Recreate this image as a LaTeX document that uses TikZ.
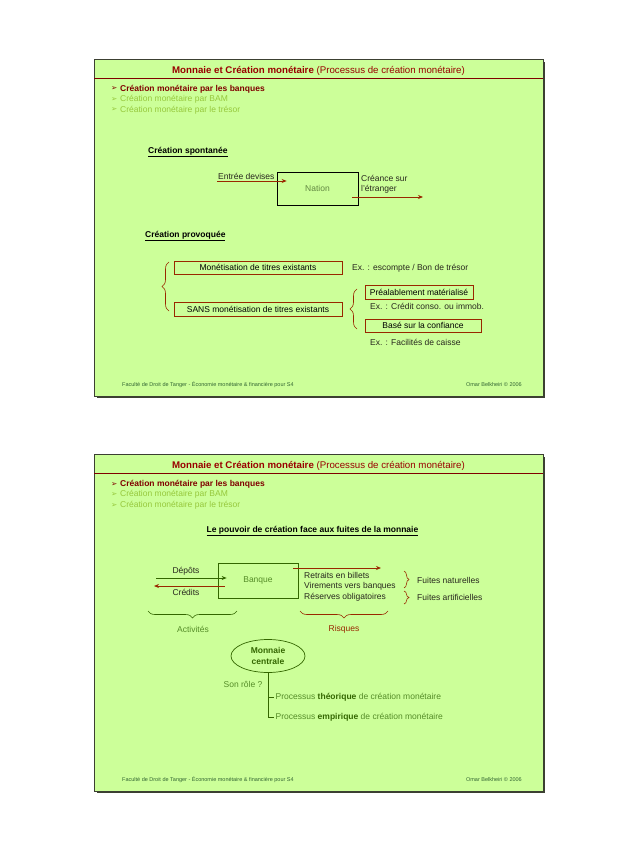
\documentclass[tikz,border=0pt]{standalone}
\usepackage{fontspec}
\setmainfont{Liberation Sans}
\newfontfamily\dejavu{DejaVu Sans}
\usetikzlibrary{arrows.meta,positioning,calc,shapes.geometric,decorations.pathreplacing}
\definecolor{slidegreen}{RGB}{204,255,153}
\definecolor{slideedge}{RGB}{60,64,50}
\definecolor{titlered}{RGB}{153,0,0}
\definecolor{ruledred}{RGB}{128,0,0}
\definecolor{palegreen}{RGB}{150,200,60}
\definecolor{footgreen}{RGB}{51,102,51}
\definecolor{arrowred}{RGB}{153,40,0}
\definecolor{darkgreen}{RGB}{51,102,0}
\definecolor{midgreen}{RGB}{85,140,40}
\definecolor{greytext}{RGB}{40,40,30}

\begin{document}
\begin{tikzpicture}[x=1pt, y=-1pt,
    slide/.style={draw=slideedge, fill=slidegreen, line width=0.6pt},
    txt/.style={font=\fontsize{8.5}{10}\selectfont, inner sep=0pt, text=greytext},
    boldtxt/.style={font=\fontsize{8.5}{10}\selectfont\bfseries, inner sep=0pt},
    framebox/.style={draw=arrowred, line width=0.7pt, font=\fontsize{8.5}{10}\selectfont, inner sep=0pt},
    flow/.style={line width=0.8pt, -{Stealth[length=5pt, width=4pt]}},
    curly/.style={decorate, decoration={brace, amplitude=7pt}, line width=0.6pt},
    bulletmark/.style={inner sep=0pt, anchor=east, font=\dejavu\fontsize{7.5}{8}\selectfont}
]
    \useasboundingbox (0,0) rectangle (638,850);

    % Slide frames, headers and footers
    \foreach \s/\dy in {one/0, two/395} {
        \begin{scope}[yshift=-\dy pt]
            \fill[slideedge] (97,62) rectangle (545,398);
            \draw[slide] (94,59) rectangle (543,396);
            \draw[ruledred, line width=0.9pt] (94,78) -- (543,78);
            \node[txt, font=\fontsize{9.7}{11}\selectfont, text=titlered] (title\s) at (318.5,70.5)
                {\textbf{Monnaie et Création monétaire} (Processus de création monétaire)};
            \node[boldtxt, anchor=west, text=ruledred] (bank\s) at (120,89) {Création monétaire par les banques};
            \node[txt, anchor=west, text=palegreen] (bam\s) at (120,99.5) {Création monétaire par BAM};
            \node[txt, anchor=west, text=palegreen] (tres\s) at (120,110) {Création monétaire par le trésor};
            \node[bulletmark, text=ruledred] at ([xshift=-2.5pt]bank\s.west) {➢};
            \node[bulletmark, text=palegreen] at ([xshift=-2.5pt]bam\s.west) {➢};
            \node[bulletmark, text=palegreen] at ([xshift=-2.5pt]tres\s.west) {➢};
            \node[txt, anchor=west, text=footgreen, font=\fontsize{5.5}{6}\selectfont] (faculty\s) at (122,385)
                {Faculté de Droit de Tanger - Économie monétaire \& financière pour S4};
            \node[txt, anchor=east, text=footgreen, font=\fontsize{5.5}{6}\selectfont] (author\s) at (522,385)
                {Omar Belkheiri © 2006};
        \end{scope}
    }

    % Création spontanée
    \node[boldtxt, anchor=west, text=black] (spont) at (148,152) {\underline{Création spontanée}};
    \node[draw=black, line width=0.6pt, minimum width=81, minimum height=33, txt, text=midgreen!70!gray] (nation) at (317.5,188.5) {Nation};
    \coordinate (devin) at (217,181);
    \coordinate (creout) at (423,197);
    \draw[flow, arrowred] (devin) -- ($(nation.west |- devin)+(10,0)$);
    \draw[flow, arrowred] ($(nation.east |- creout)+(-6,0)$) -- (creout);
    \node[txt, anchor=south west] (devlbl) at ($(devin)+(1,-1.5)$) {Entrée devises};
    \node[txt, anchor=north west, align=left] (crelbl) at (361,175) {Créance sur\\l'étranger};

    % Création provoquée
    \node[boldtxt, anchor=west, text=black] (provo) at (145,236) {\underline{Création provoquée}};
    \node[framebox, minimum width=168, minimum height=13] (mono) at (258,267.5) {Monétisation de titres existants};
    \node[framebox, minimum width=168, minimum height=14] (sans) at (258,309) {SANS monétisation de titres existants};
    \node[framebox, minimum width=108, minimum height=14] (prea) at (419,292) {Préalablement matérialisé};
    \node[framebox, minimum width=116, minimum height=13] (conf) at (423,325.5) {Basé sur la confiance};
    \node[txt, anchor=west] (exmono) at (352,268) {Ex. : escompte / Bon de trésor};
    \node[txt, anchor=west] (exprea) at (370,306) {Ex. : Crédit conso. ou immob.};
    \node[txt, anchor=west] (exconf) at (370,342) {Ex. : Facilités de caisse};
    \draw[curly, arrowred] (169,311) -- (169,262);
    \draw[curly, arrowred] (357,329) -- (357,289);

    % Fuites de la monnaie
    \node[boldtxt, text=black] (pouvoir) at (312.5,531) {\underline{Le pouvoir de création face aux fuites de la monnaie}};
    \node[draw=darkgreen, line width=0.7pt, minimum width=80, minimum height=35, txt, text=midgreen] (banque) at (258,580.5) {Banque};
    \coordinate (depin) at (156,578);
    \coordinate (credout) at (154,586);
    \coordinate (riskout) at (381,568);
    \draw[flow, darkgreen] (depin) -- ($(banque.west |- depin)+(9,0)$);
    \draw[flow, arrowred] ($(banque.west |- credout)+(7,0)$) -- (credout);
    \draw[flow, arrowred] ($(banque.east |- riskout)+(-5,0)$) -- (riskout);
    \node[txt] (depots) at (186,571) {Dépôts};
    \node[txt] (credits) at (186,592.5) {Crédits};
    \node[txt, anchor=west] (retraits) at (304,575) {Retraits en billets};
    \node[txt, anchor=west] (virements) at (304,586) {Virements vers banques};
    \node[txt, anchor=west] (reserves) at (304,597) {Réserves obligatoires};
    \draw[curly, arrowred, decoration={amplitude=5pt}] (404,571) -- (404,588);
    \draw[curly, arrowred, decoration={amplitude=5pt}] (404,591) -- (404,604);
    \node[txt, anchor=west] (naturelles) at (417,580) {Fuites naturelles};
    \node[txt, anchor=west] (artific) at (417,597.5) {Fuites artificielles};
    \draw[curly, darkgreen] (237,611) -- (148,611);
    \draw[curly, arrowred] (388,611) -- (300,611);
    \node[txt, text=midgreen] (activites) at (193,629) {Activités};
    \node[txt, text=arrowred] (risques) at (344,629) {Risques};

    % Monnaie centrale
    \node[ellipse, draw=darkgreen, line width=0.7pt, minimum width=74, minimum height=33, inner sep=0pt,
        align=center, font=\fontsize{8.5}{11}\selectfont\bfseries, text=darkgreen] (central) at (268,656) {Monnaie\\centrale};
    \node[txt, text=midgreen] (role) at (243,684) {Son rôle ?};
    \node[txt, anchor=west, text=midgreen, inner sep=1.5pt] (theor) at (274,697)
        {Processus \textcolor{darkgreen}{\textbf{théorique}} de création monétaire};
    \node[txt, anchor=west, text=midgreen, inner sep=1.5pt] (empir) at (274,717)
        {Processus \textcolor{darkgreen}{\textbf{empirique}} de création monétaire};
    \draw[darkgreen, line width=0.7pt] (central.south) |- (empir.west);
    \draw[darkgreen, line width=0.7pt] (central.south |- theor.west) -- (theor.west);
\end{tikzpicture}
\end{document}
